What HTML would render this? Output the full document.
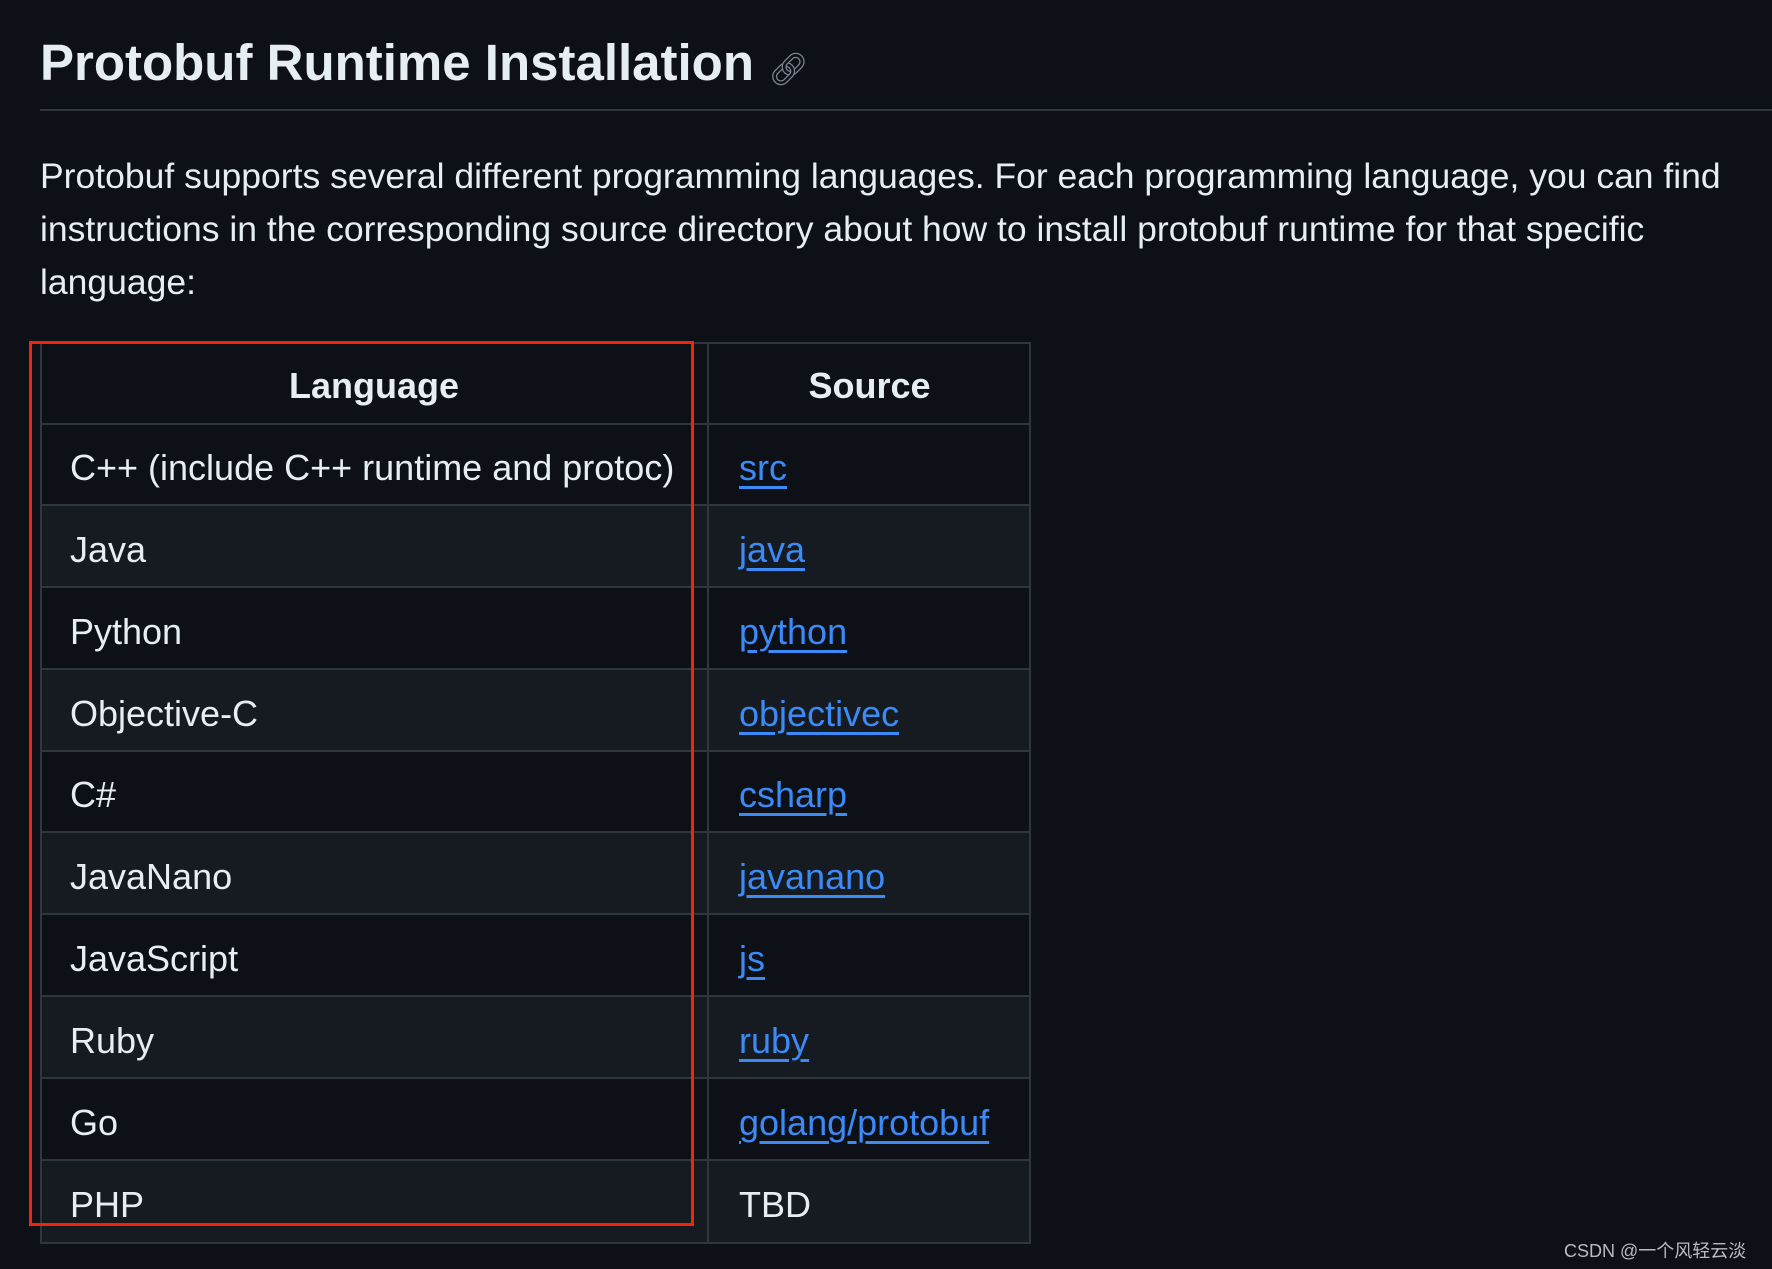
<!DOCTYPE html>
<html><head><meta charset="utf-8"><style>
body{margin:0;width:1772px;height:1269px;background:#0d1117;font-family:"Liberation Sans","Noto Sans CJK SC",sans-serif;color:#e6edf3;position:relative;overflow:hidden}
.a{position:absolute;white-space:nowrap}
.h1{position:absolute;left:40px;top:33px;font-size:51px;font-weight:bold;white-space:nowrap}
.rule{position:absolute;left:40px;top:109px;width:1732px;height:2px;background:#30363d}
.p{position:absolute;left:40px;top:150px;font-size:35.5px;line-height:53px;white-space:nowrap}
.row{position:absolute;left:40px;width:991px;height:82px;border-bottom:2px solid #30363d;box-sizing:border-box}
.row span{position:absolute;top:23px;font-size:36px;white-space:nowrap}
.l{left:30px}
.s{left:699px}
.k{color:#3b8af5;text-decoration:underline;text-decoration-thickness:3px;text-underline-offset:6px}
.alt{background:#161b22}
</style></head><body>
<div class="h1">Protobuf Runtime Installation <span style="color:#7d8590;font-size:32px;font-weight:normal">&#x1F517;&#xFE0E;</span></div>
<div class="rule"></div>
<div class="p">Protobuf supports several different programming languages. For each programming language, you can find<br>instructions in the corresponding source directory about how to install protobuf runtime for that specific<br>language:</div>

<div class="row" style="top:342px;height:83px;font-weight:bold"><span style="left:0;width:668px;text-align:center">Language</span><span style="left:668px;width:323px;text-align:center">Source</span></div>
<div class="row" style="top:424px"><span class="l">C++ (include C++ runtime and protoc)</span><span class="s k">src</span></div>
<div class="row alt" style="top:506px"><span class="l">Java</span><span class="s k">java</span></div>
<div class="row" style="top:588px"><span class="l">Python</span><span class="s k">python</span></div>
<div class="row alt" style="top:670px"><span class="l">Objective-C</span><span class="s k">objectivec</span></div>
<div class="row" style="top:751px"><span class="l">C#</span><span class="s k">csharp</span></div>
<div class="row alt" style="top:833px"><span class="l">JavaNano</span><span class="s k">javanano</span></div>
<div class="row" style="top:915px"><span class="l">JavaScript</span><span class="s k">js</span></div>
<div class="row alt" style="top:997px"><span class="l">Ruby</span><span class="s k">ruby</span></div>
<div class="row" style="top:1079px"><span class="l">Go</span><span class="s k">golang/protobuf</span></div>
<div class="row alt" style="top:1161px;border-bottom:none"><span class="l">PHP</span><span class="s">TBD</span></div>

<div style="position:absolute;left:40px;top:342px;width:991px;height:902px;border:2px solid #30363d;box-sizing:border-box"></div>
<div style="position:absolute;left:707px;top:342px;width:2px;height:902px;background:#30363d"></div>
<div style="position:absolute;left:29px;top:341px;width:665px;height:885px;border:3px solid #f0250c;box-sizing:border-box"></div>
<div class="a" style="left:1564px;top:1237px;font-size:18px;color:#b8bcc2">CSDN @一个风轻云淡</div>
</body></html>
